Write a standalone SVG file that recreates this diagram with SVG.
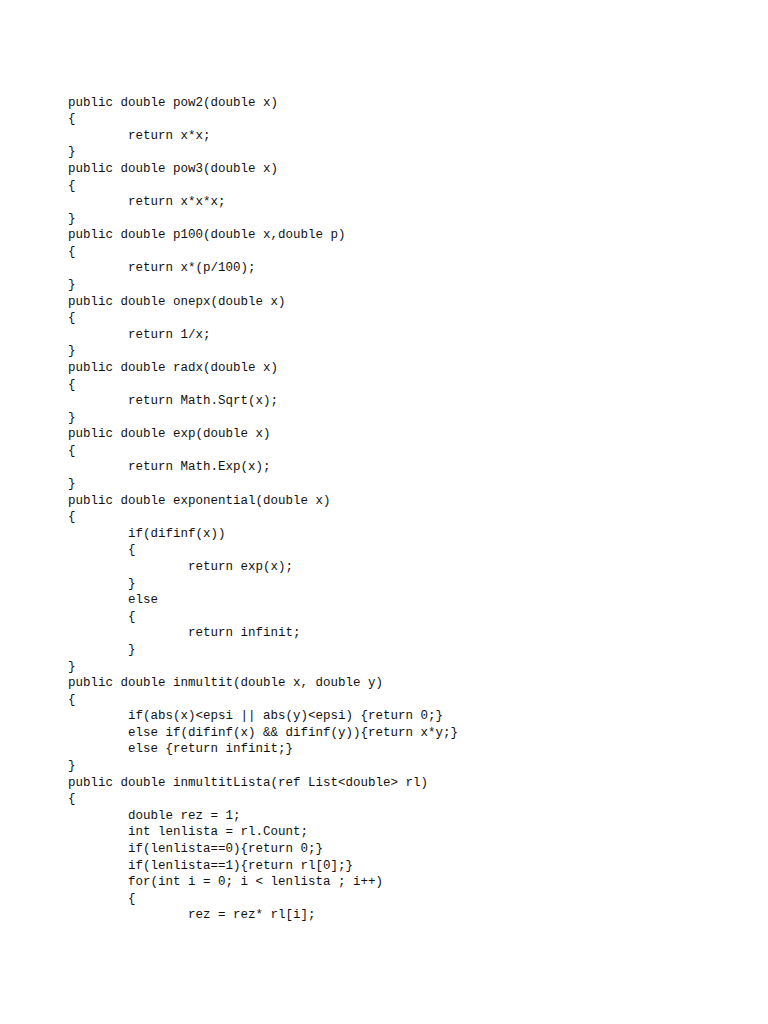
<svg xmlns="http://www.w3.org/2000/svg" width="768" height="1024" viewBox="0 0 768 1024">
<style>text{font-family:"Liberation Mono","DejaVu Sans Mono",monospace;font-size:12.5px;fill:#111}</style>
<rect width="768" height="1024" fill="#fff"/>
<g id="code">
<text x="68" y="105.5">public double pow2(double x)</text>
<text x="68" y="122.1">{</text>
<text x="128" y="138.7">return x*x;</text>
<text x="68" y="155.3">}</text>
<text x="68" y="171.9">public double pow3(double x)</text>
<text x="68" y="188.5">{</text>
<text x="128" y="205.0">return x*x*x;</text>
<text x="68" y="221.6">}</text>
<text x="68" y="238.2">public double p100(double x,double p)</text>
<text x="68" y="254.8">{</text>
<text x="128" y="271.4">return x*(p/100);</text>
<text x="68" y="288.0">}</text>
<text x="68" y="304.6">public double onepx(double x)</text>
<text x="68" y="321.2">{</text>
<text x="128" y="337.7">return 1/x;</text>
<text x="68" y="354.3">}</text>
<text x="68" y="370.9">public double radx(double x)</text>
<text x="68" y="387.5">{</text>
<text x="128" y="404.1">return Math.Sqrt(x);</text>
<text x="68" y="420.7">}</text>
<text x="68" y="437.3">public double exp(double x)</text>
<text x="68" y="453.9">{</text>
<text x="128" y="470.4">return Math.Exp(x);</text>
<text x="68" y="487.0">}</text>
<text x="68" y="503.6">public double exponential(double x)</text>
<text x="68" y="520.2">{</text>
<text x="128" y="536.8">if(difinf(x))</text>
<text x="128" y="553.4">{</text>
<text x="188" y="570.0">return exp(x);</text>
<text x="128" y="586.6">}</text>
<text x="128" y="603.1">else</text>
<text x="128" y="619.7">{</text>
<text x="188" y="636.3">return infinit;</text>
<text x="128" y="652.9">}</text>
<text x="68" y="669.5">}</text>
<text x="68" y="686.1">public double inmultit(double x, double y)</text>
<text x="68" y="702.7">{</text>
<text x="128" y="719.3">if(abs(x)&lt;epsi || abs(y)&lt;epsi) {return 0;}</text>
<text x="128" y="735.8">else if(difinf(x) &amp;&amp; difinf(y)){return x*y;}</text>
<text x="128" y="752.4">else {return infinit;}</text>
<text x="68" y="769.0">}</text>
<text x="68" y="785.6">public double inmultitLista(ref List&lt;double&gt; rl)</text>
<text x="68" y="802.2">{</text>
<text x="128" y="818.8">double rez = 1;</text>
<text x="128" y="835.4">int lenlista = rl.Count;</text>
<text x="128" y="852.0">if(lenlista==0){return 0;}</text>
<text x="128" y="868.5">if(lenlista==1){return rl[0];}</text>
<text x="128" y="885.1">for(int i = 0; i &lt; lenlista ; i++)</text>
<text x="128" y="901.7">{</text>
<text x="188" y="918.3">rez = rez* rl[i];</text>
</g>
</svg>
